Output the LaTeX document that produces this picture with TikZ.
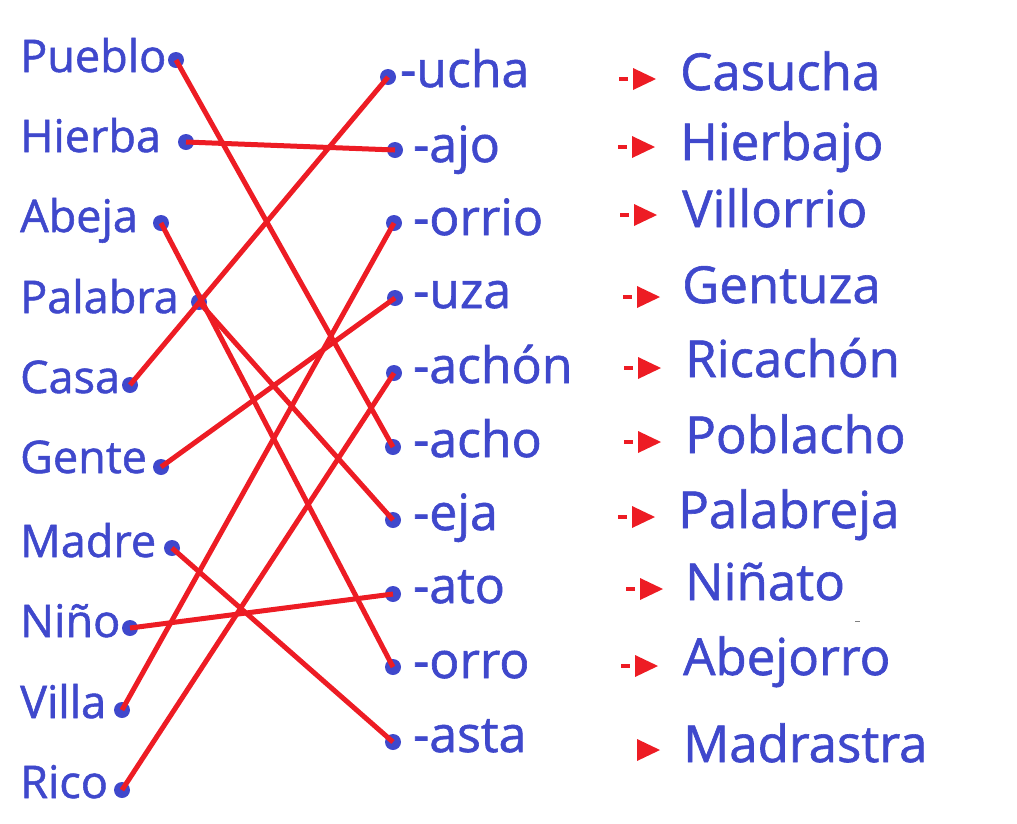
\documentclass[tikz,border=0pt]{standalone}
\usepackage{fontspec}
\setmainfont{Open Sans}[FakeBold=1.2]
\definecolor{wblue}{RGB}{63,72,204}
\definecolor{wred}{RGB}{237,28,36}
\tikzset{
  word/.style={anchor=base west, text=wblue, inner sep=0pt, font=\fontsize{45}{54}\selectfont},
  suf/.style={anchor=base west, text=wblue, inner sep=0pt, font=\fontsize{50}{60}\selectfont},
  res/.style={anchor=base west, text=wblue, inner sep=0pt, font=\fontsize{51}{61}\selectfont},
  dot/.style={circle, fill=wblue, inner sep=0pt, minimum size=16pt},
  link/.style={draw=wred, line width=5pt},
  arrd/.pic={\fill[wred] (0,-11) -- (23,0) -- (0,11) -- cycle;
             \draw[wred, line width=4pt] (-14,0) -- (-5,0);},
  arrn/.pic={\fill[wred] (0,-11) -- (23,0) -- (0,11) -- cycle;}
}
\begin{document}
\begin{tikzpicture}[x=1pt, y=-1pt]
\useasboundingbox (0,0) rectangle (1017,823);
% left words
\node[word] (wPueblo)  at (20,72)  {Pueblo};
\node[word] (wHierba)  at (20,152) {Hierba};
\node[word] (wAbeja)   at (20,232) {Abeja};
\node[word] (wPalabra) at (20,313) {Palabra};
\node[word] (wCasa)    at (20,393) {Casa};
\node[word] (wGente)   at (20,473) {Gente};
\node[word] (wMadre)   at (20,557) {Madre};
\node[word] (wNino)    at (20,637) {Niño};
\node[word] (wVilla)   at (20,718) {Villa};
\node[word] (wRico)    at (20,798) {Rico};
% left dots
\node[dot] (dPueblo)  at (176,60)  {};
\node[dot] (dHierba)  at (186,142) {};
\node[dot] (dAbeja)   at (161,223) {};
\node[dot] (dPalabra) at (199,302) {};
\node[dot] (dCasa)    at (130,385) {};
\node[dot] (dGente)   at (161,467) {};
\node[dot] (dMadre)   at (172,548) {};
\node[dot] (dNino)    at (130,628) {};
\node[dot] (dVilla)   at (122,710) {};
\node[dot] (dRico)    at (122,790) {};
% middle suffixes
\node[suf] (sUcha)  at (400,87)  {-ucha};
\node[suf] (sAjo)   at (413,162) {-ajo};
\node[suf] (sOrrio) at (413,235) {-orrio};
\node[suf] (sUza)   at (413,308) {-uza};
\node[suf] (sAchon) at (413,383) {-achón};
\node[suf] (sAcho)  at (413,457) {-acho};
\node[suf] (sEja)   at (413,530) {-eja};
\node[suf] (sAto)   at (413,603) {-ato};
\node[suf] (sOrro)  at (413,678) {-orro};
\node[suf] (sAsta)  at (413,752) {-asta};
% middle dots
\node[dot] (mUcha)  at (388,77)  {};
\node[dot] (mAjo)   at (395,150) {};
\node[dot] (mOrrio) at (394,223) {};
\node[dot] (mUza)   at (395,298) {};
\node[dot] (mAchon) at (394,373) {};
\node[dot] (mAcho)  at (393,447) {};
\node[dot] (mEja)   at (393,520) {};
\node[dot] (mAto)   at (393,594) {};
\node[dot] (mOrro)  at (393,667) {};
\node[dot] (mAsta)  at (393,742) {};
% connectors
\draw[link] (dPueblo.center)  -- (mAcho.center);
\draw[link] (dHierba.center)  -- (mAjo.center);
\draw[link] (dAbeja.center)   -- (mOrro.center);
\draw[link] (dPalabra.center) -- (mEja.center);
\draw[link] (dCasa.center)    -- (mUcha.center);
\draw[link] (dGente.center)   -- (mUza.center);
\draw[link] (dMadre.center)   -- (mAsta.center);
\draw[link] (dNino.center)    -- (mAto.center);
\draw[link] (dVilla.center)   -- (mOrrio.center);
\draw[link] (dRico.center)    -- (mAchon.center);
% arrows
\pic at (633,79)  {arrd};
\pic at (632,147) {arrd};
\pic at (634,215) {arrd};
\pic at (637,297) {arrd};
\pic at (638,368) {arrd};
\pic at (638,442) {arrd};
\pic at (632,517) {arrd};
\pic at (640,589) {arrd};
\pic at (635,666) {arrd};
\pic at (637,750) {arrn};
% results
\node[res] (rCasucha)   at (680,90)  {Casucha};
\node[res] (rHierbajo)  at (680,160) {Hierbajo};
\node[res] (rVillorrio) at (682,227) {Villorrio};
\node[res] (rGentuza)   at (682,303) {Gentuza};
\node[res] (rRicachon)  at (685,377) {Ricachón};
\node[res] (rPoblacho)  at (685,453) {Poblacho};
\node[res] (rPalabreja) at (678,528) {Palabreja};
\node[res] (rNinato)    at (685,600) {Niñato};
\node[res] (rAbejorro)  at (683,675) {Abejorro};
\node[res] (rMadrastra) at (683,762) {Madrastra};
% stray speck
\draw[gray, line width=1pt] (855,621) -- (860,621);
\end{tikzpicture}
\end{document}
